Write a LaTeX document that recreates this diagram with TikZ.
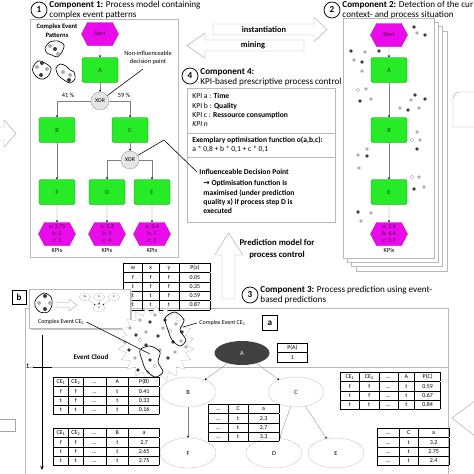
\documentclass[tikz,border=0pt]{standalone}
\usepackage{fontspec}
\setmainfont{Carlito}
\newfontfamily\symfont{DejaVu Sans}
\usepackage{array}
\usetikzlibrary{positioning}
\usetikzlibrary{arrows.meta}
\usetikzlibrary{shapes.geometric,shapes.symbols}

\definecolor{procgreen}{RGB}{40,235,40}
\definecolor{kpimagenta}{RGB}{235,10,235}
\definecolor{framegray}{RGB}{185,185,185}
\definecolor{dotdark}{RGB}{60,60,60}
\definecolor{dotlight}{RGB}{175,175,175}

\newcolumntype{C}[1]{>{\centering\arraybackslash}p{#1}}
\newcolumntype{?}{!{\vrule width 1.3pt}}
\setlength{\tabcolsep}{0pt}
\newcommand{\hdfont}{\fontsize{13}{14.2}\selectfont}
\newcommand{\txfont}{\fontsize{10.8}{13.2}\selectfont}
\newcommand{\smfont}{\fontsize{9}{10.5}\selectfont}
\newcommand{\kpifont}{\fontsize{8.3}{9.8}\selectfont}
\newcommand{\tbfont}{\fontsize{8.5}{12.8}\selectfont}

\tikzset{
  stepbox/.style={draw=green!55!black, fill=procgreen, rounded corners=3pt,
    minimum width=1.8cm, minimum height=1.25cm, font=\smfont, text=green!30!black},
  hexbox/.style={signal, signal to=west and east, signal pointer angle=125,
    draw=kpimagenta!70!black, fill=kpimagenta, minimum width=1.85cm, minimum height=1.15cm,
    inner sep=0pt, font=\kpifont, text=violet!50!black, align=center},
  xorbox/.style={circle, draw=gray, fill=gray!20, minimum size=0.9cm, inner sep=0pt, font=\kpifont},
  flow/.style={draw=gray, -{Stealth[length=3pt,width=3pt,color=black]}},
  compframe/.style={draw=framegray, line width=0.6pt},
  hollow/.style={draw=gray!70, fill=white, line width=0.6pt},
  compnum/.style={circle, draw, line width=1.1pt, minimum size=0.8cm, inner sep=0pt, font=\hdfont\bfseries},
  heading/.style={anchor=west, align=left, font=\hdfont},
  tbl/.style={anchor=north west, inner sep=0pt, font=\tbfont},
  bnnode/.style={ellipse, draw=framegray, fill=white, minimum width=2.8cm, minimum height=1.5cm, font=\smfont},
  pointer/.style={draw=black, line width=0.8pt},
  blob/.style={draw=black, line width=0.9pt, fill=white},
  darkdot/.style={fill=dotdark},
  lightdot/.style={fill=dotlight},
  opendot/.style={draw=dotlight, fill=white, line width=0.6pt},
}

\begin{document}
\begin{tikzpicture}[x=0.05cm, y=-0.05cm, >=Stealth]
\useasboundingbox (0,0) rectangle (474,474);

% side arrows
\draw[hollow] (-5,127) -- (4,127) -- (4,120) -- (16,133.5) -- (4,147) -- (4,140) -- (-5,140);
\draw[hollow] (-5,419) rectangle (15,431);
\draw[hollow] (480,92) -- (459,92) .. controls (455,93) .. (453,98) -- (453,127) -- (480,127);
\draw[hollow] (480,397) -- (452,418) -- (480,440);

% component 1
\draw[compframe, fill=white] (30,19) rectangle (178,257);
\node[compnum] (num1) at (39,10) {1};
\node[heading] (head1) at (47,10) {\textbf{Component 1:} Process model containing\\complex event patterns};
\node[font=\fontsize{9.5}{12.5}\selectfont\bfseries, align=center] (cep) at (57,31) {Complex Event\\Patterns};

\draw[blob] plot[smooth cycle] coordinates {(45,48) (50,42) (58,41) (64,45) (62,52) (57,57) (52,55) (47,53)};
\draw[blob] plot[smooth cycle] coordinates {(33,67) (38,61) (45,63) (51,68) (49,75) (44,79) (38,78) (33,72)};
\draw[blob] plot[smooth cycle] coordinates {(60,64) (66,66) (70,70) (74,72) (75,79) (70,83) (64,80) (58,75) (56,68)};
\foreach \x/\y in {50/46, 58/54, 37/67, 47/69, 63/72, 70/75}
  \fill[lightdot] (\x,\y) circle (0.1cm);
\foreach \x/\y in {55/49, 42/63, 41/75, 69/80}
  \fill[darkdot] (\x,\y) circle (0.1cm);

\node[hexbox] (p1-start) at (100,34) {Start};
\foreach \n/\x/\y in {A/100/70, B/57/130, C/130/130, F/57/192, D/107/192, E/152/192}
  \node[stepbox] (p1-\n) at (\x,\y) {\n};
\node[xorbox] (p1-x1) at (100,101) {XOR};
\node[xorbox] (p1-x2) at (130,160) {XOR};
\foreach \n/\x/\a/\b/\c in {F/57/2.75/2/3, D/107/3.3/5/4, E/152/3.4/7/1} {
  \node[hexbox] (kpi1-\n) at (\x,234) {a: \a\\b: \b\\c: \c};
  \node[font=\smfont, below=0pt of kpi1-\n] (kpil1-\n) {KPIs};
}

\draw[flow] (p1-start) -- (p1-A);
\draw[flow] (p1-A) -- (p1-x1);
\draw[flow] (p1-x1) -| (p1-B);
\draw[flow] (p1-x1) -| (p1-C);
\draw[flow] (p1-B) -- (p1-F);
\draw[flow] (p1-C) -- (p1-x2);
\draw[flow] (p1-x2) -| (p1-D);
\draw[flow] (p1-x2) -| (p1-E);
\foreach \n in {F,D,E}
  \draw[flow] (p1-\n) -- (kpi1-\n);

\node[font=\smfont] (pct41) at (68,95) {41 \%};
\node[font=\smfont] (pct59) at (124,95) {59 \%};
\node[font=\smfont, align=center] (noninfl) at (148,58) {Non-influenceable\\decision point};
\coordinate (nitip) at (143,69);
\draw[pointer] (p1-x1) -- (nitip);

% instantiation / mining
\draw[hollow] (213,24) -- (314,24) -- (314,17.5) -- (327,29.5) -- (314,41.5) -- (314,35) -- (213,35) -- cycle;
\draw[hollow] (304,40) -- (205,40) -- (205,33) -- (187,45.5) -- (205,58) -- (205,51) -- (304,51) -- cycle;
\node[font=\fontsize{12}{13}\selectfont\bfseries] (inst) at (264,29.5) {instantiation};
\node[font=\fontsize{12}{13}\selectfont\bfseries] (mine) at (253,45.5) {mining};

% component 4
\node[compnum] (num4) at (190,76) {4};
\node[heading] (head4) at (198,77) {\textbf{Component 4:}\\KPI-based prescriptive process control};
\draw[compframe, fill=white] (187,88) rectangle (335,222);
\draw[compframe] (187,133) -- (335,133);
\draw[compframe] (187,157) -- (335,157);
\node[anchor=north west, align=left, font=\txfont] (kpilist) at (190,91)
  {KPI a : \textbf{Time}\\KPI b : \textbf{Quality}\\KPI c : \textbf{Ressource consumption}\\\textit{KPI n}};
\node[anchor=north west, align=left, font=\txfont] (optfun) at (190,134)
  {\textbf{Exemplary optimisation function o(a,b,c):}\\a * 0,8 + b * 0,1 + c * 0,1};
\node[anchor=west, font=\txfont\bfseries] (infl) at (197,172) {Influenceable Decision Point};
\node[anchor=north west, align=left, font=\txfont\bfseries] (inflres) at (201,178)
  {{\symfont\bfseries →} Optimisation function is\\maximised (under prediction\\quality x) if process step D is\\executed};
\coordinate (bend) at (164,140);
\draw[pointer] (p1-x2) -- (bend) -- (infl.west);

% component 2
\node[compnum] (num2) at (332,10) {2};
\node[heading] (head2) at (340,10) {\textbf{Component 2:} Detection of the cur\\context- and process situation};
\foreach \k in {3,2,1,0}
  \draw[compframe, fill=white] ({343+4.3*\k},{18+4.3*\k}) rectangle ++(91,240);
\node[hexbox] (p2-start) at (389,35) {Start};
\foreach \n/\y in {A/70, B/130, E/192}
  \node[stepbox] (p2-\n) at (389,\y) {\n};
\node[hexbox] (kpi2) at (389,234) {a: 2.5\\b: 6.4\\c: 3.7};
\node[font=\smfont, below=0pt of kpi2] (kpil2) {KPIs};
\draw[flow] (p2-start) -- (p2-A);
\draw[flow] (p2-A) -- (p2-B);
\draw[flow] (p2-B) -- (p2-E);
\draw[flow] (p2-E) -- (kpi2);
\foreach \x/\y in {414/27, 425/35, 351/51, 379/51, 362/62, 360/101, 415/95, 425/99, 408/110, 417/149, 367/156, 414/189, 358/212}
  \fill[darkdot] (\x,\y) circle (0.09cm);
\foreach \x/\y in {417/33, 365/52, 354/60, 362/71, 366/89, 371/99, 411/100, 400/108, 419/108, 417/132, 420/140, 367/149, 358/155, 359/168, 419/177, 424/187, 371/213, 361/221}
  \fill[lightdot] (\x,\y) circle (0.09cm);
\foreach \x/\y in {358/90, 412/140, 412/177}
  \draw[opendot] (\x,\y) circle (0.09cm);

% prediction model arrow
\draw[hollow] (222,299) -- (222,255) -- (215,255) -- (228.5,233) -- (243,255) -- (235,255) -- (235,299) -- cycle;
\node[font=\fontsize{12.5}{16.5}\selectfont\bfseries, align=center] (predm) at (277,249) {Prediction model for\\process control};

% component 3
\node[compnum] (num3) at (250,295) {3};
\node[heading] (head3) at (258,295) {\textbf{Component 3:} Process prediction using event-\\based predictions};
\draw[compframe] (25,480) -- (25,308) -- (448,308) -- (448,480);
\draw[compframe] (25,367) -- (448,367);

\node[tbl] (tabPz) at (123,263) {\begin{tabular}{|C{0.95cm}|C{0.8cm}|C{1.0cm}?C{1.5cm}|}\hline
w & x & y & P(z)\\\hline
f & f & f & 0.05\\\hline
t & f & f & 0.35\\\hline
t & t & f & 0.59\\\hline
t & t & t & 0.87\\\hline
\end{tabular}};

% inset b
\node[draw, line width=1.1pt, minimum size=0.7cm, inner sep=0pt, font=\hdfont\bfseries] (boxb) at (19,297) {b};
\fill[gray!45] (31,291) rectangle (132,330);
\draw[compframe, fill=white] (29,289) rectangle (130,328);
\draw[blob] plot[smooth cycle] coordinates {(36,299) (44,293) (51,297) (52,305) (48,312) (40,312) (35,306)};
\fill[darkdot] (45,296) circle (0.1cm);
\fill[darkdot] (45,309) circle (0.1cm);
\fill[lightdot] (39,303) circle (0.1cm);
\fill[lightdot] (50,303) circle (0.1cm);
\draw[hollow] (57,302.5) -- (69,302.5) -- (69,299) -- (77,305) -- (69,311) -- (69,307.5) -- (57,307.5) -- cycle;
\foreach \n/\x/\y in {w/85/297, x/99/297, y/114/297, z/99/308}
  \node[ellipse, draw=framegray, minimum width=0.6cm, minimum height=0.35cm, inner sep=0pt, font=\fontsize{5}{5}\selectfont] (bn-\n) at (\x,\y) {\n};
\foreach \n in {w,x,y}
  \draw[draw=framegray, -{Stealth[length=2pt,width=2pt,color=black]}] (bn-\n) -- (bn-z);
\node[font=\fontsize{8.5}{10}\selectfont] (ce2txt) at (61,322) {Complex Event CE\textsubscript{2}};

% event cloud
\node[star, star points=22, star point ratio=1.25, draw=framegray, fill=white, minimum size=3.8cm] (cloud) at (156,344) {};
\foreach \x/\y in {150/322, 165/320, 136/335, 158/336, 173/342, 146/345, 182/332, 129/350, 150/360, 168/358, 138/370}
  \fill[darkdot] (\x,\y) circle (0.09cm);
\foreach \x/\y in {140/320, 155/315, 176/324, 130/328, 146/332, 163/328, 181/341, 125/342, 160/350, 135/358, 175/352, 148/372, 186/347}
  \fill[lightdot] (\x,\y) circle (0.09cm);
\foreach \x/\y in {170/331, 140/340, 155/366}
  \draw[opendot] (\x,\y) circle (0.09cm);
\draw[draw=black, line width=0.9pt] plot[smooth cycle] coordinates {(165,318) (175,312) (184,320) (180,330) (186,340) (180,346) (172,340) (168,330)};
\draw[draw=black, line width=0.9pt] plot[smooth cycle] coordinates {(140,350) (150,346) (160,352) (158,362) (163,372) (155,377) (146,370) (142,360)};
\coordinate (ce1pt) at (183,327);
\coordinate (ce2pt) at (150,354);
\draw[pointer] (ce2txt.east) -- (ce2pt);
\node[font=\fontsize{8.5}{10}\selectfont, anchor=west] (ce1txt) at (197,323) {Complex Event CE\textsubscript{1}};
\draw[pointer] (ce1txt.west) -- (ce1pt);
\node[draw, line width=1.1pt, minimum size=0.75cm, inner sep=0pt, font=\hdfont\bfseries] (boxa) at (270,323) {a};

% time axis
\node[font=\fontsize{10}{12}\selectfont\bfseries] (evcloud) at (91,357) {Event Cloud};
\node[font=\txfont] (tlabel) at (28,366) {t};
\coordinate (tick-l) at (33,367);
\coordinate (tick-r) at (52,367);
\draw[line width=0.9pt] (tick-l) -- (tick-r);
\coordinate (taxis-top) at (42,335);
\coordinate (taxis-bot) at (42,470);
\draw[line width=1pt, -{Stealth[length=6pt,width=5pt]}] (taxis-top) -- (taxis-bot);

% bayesian network
\node[ellipse, fill=black!75, minimum width=2.75cm, minimum height=1.2cm, text=white, font=\smfont] (bn-A) at (242,353) {A};
\foreach \n/\x/\y in {B/188/392, C/296/392, F/188/453, D/274/453, E/336/453}
  \node[bnnode] (bn-\n) at (\x,\y) {\n};
\draw[flow] (bn-A) -- (bn-B);
\draw[flow] (bn-A) -- (bn-C);
\draw[flow] (bn-B) -- (bn-F);
\draw[flow] (bn-C) -- (bn-D);
\draw[flow] (bn-C) -- (bn-E);

\node[tbl] (tabPA) at (277,343) {\begin{tabular}{|C{1.5cm}|}\hline P(A)\\\hline 1\\\hline\end{tabular}};
\node[tbl] (tabPB) at (53,377) {\begin{tabular}{|C{0.75cm}|C{0.7cm}|C{1.15cm}|C{1.1cm}?C{1.5cm}|}\hline
CE\textsubscript{1} & CE\textsubscript{2} & \dots & A & P(B)\\\hline
f & f & \dots & t & 0.41\\\hline
t & f & \dots & t & 0.33\\\hline
t & t & \dots & t & 0.16\\\hline
\end{tabular}};
\node[tbl] (tabaB) at (53,428) {\begin{tabular}{|C{0.75cm}|C{0.7cm}|C{1.15cm}|C{1.1cm}?C{1.5cm}|}\hline
CE\textsubscript{1} & CE\textsubscript{2} & \dots & B & a\\\hline
f & f & \dots & t & 2.7\\\hline
t & f & \dots & t & 2.65\\\hline
t & t & \dots & t & 2.75\\\hline
\end{tabular}};
\node[tbl] (tabaC) at (208,404) {\begin{tabular}{|C{1.0cm}|C{0.95cm}?C{1.5cm}|}\hline
\dots & C & a\\\hline
\dots & t & 2.3\\\hline
\dots & t & 2.7\\\hline
\dots & t & 3.3\\\hline
\end{tabular}};
\node[tbl] (tabPC) at (340,372) {\begin{tabular}{|C{0.95cm}|C{0.95cm}|C{0.95cm}|C{0.8cm}?C{1.25cm}|}\hline
CE\textsubscript{1} & CE\textsubscript{2} & \dots & A & P(C)\\\hline
f & f & \dots & t & 0.59\\\hline
t & f & \dots & t & 0.67\\\hline
t & t & \dots & t & 0.84\\\hline
\end{tabular}};
\node[tbl] (tabaC2) at (377,428) {\begin{tabular}{|C{1.1cm}|C{0.9cm}?C{1.5cm}|}\hline
\dots & C & a\\\hline
\dots & t & 3.2\\\hline
\dots & t & 2.75\\\hline
\dots & t & 2.4\\\hline
\end{tabular}};

\end{tikzpicture}
\end{document}
